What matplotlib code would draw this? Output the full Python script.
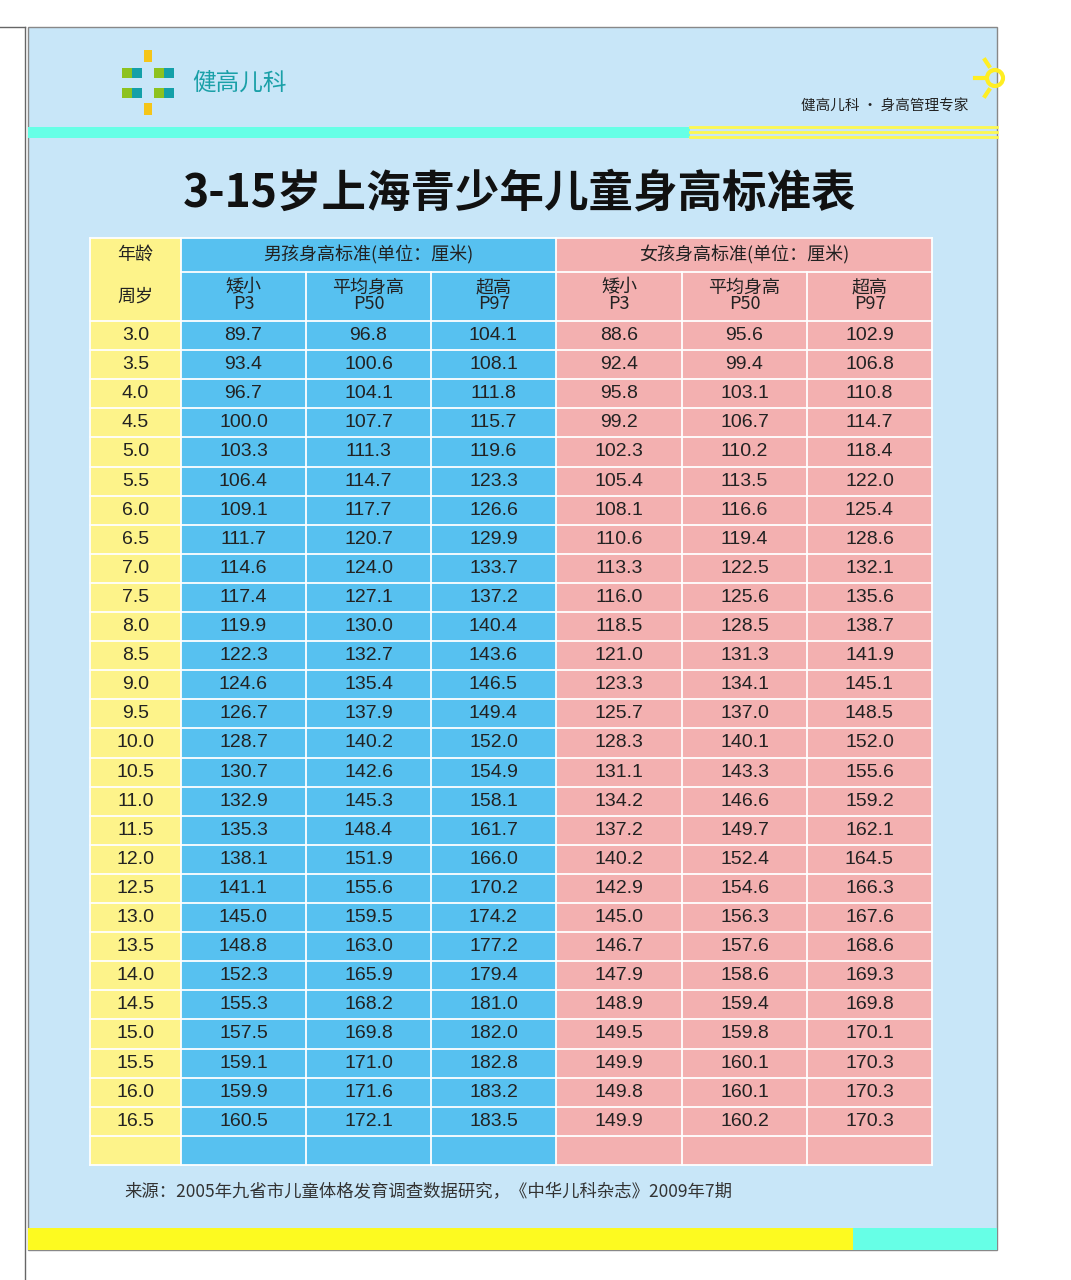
import matplotlib
matplotlib.use("Agg")
import matplotlib.pyplot as plt
from matplotlib.patches import Rectangle, Circle

plt.rcParams["font.family"] = ["Noto Sans CJK SC", "DejaVu Sans"]

AGES = ["3.0", "3.5", "4.0", "4.5", "5.0", "5.5", "6.0", "6.5", "7.0", "7.5", "8.0", "8.5",
        "9.0", "9.5", "10.0", "10.5", "11.0", "11.5", "12.0", "12.5", "13.0", "13.5", "14.0",
        "14.5", "15.0", "15.5", "16.0", "16.5"]
BOY_P3 = [89.7, 93.4, 96.7, 100.0, 103.3, 106.4, 109.1, 111.7, 114.6, 117.4, 119.9, 122.3, 124.6,
          126.7, 128.7, 130.7, 132.9, 135.3, 138.1, 141.1, 145.0, 148.8, 152.3, 155.3, 157.5,
          159.1, 159.9, 160.5]
BOY_P50 = [96.8, 100.6, 104.1, 107.7, 111.3, 114.7, 117.7, 120.7, 124.0, 127.1, 130.0, 132.7,
           135.4, 137.9, 140.2, 142.6, 145.3, 148.4, 151.9, 155.6, 159.5, 163.0, 165.9, 168.2,
           169.8, 171.0, 171.6, 172.1]
BOY_P97 = [104.1, 108.1, 111.8, 115.7, 119.6, 123.3, 126.6, 129.9, 133.7, 137.2, 140.4, 143.6,
           146.5, 149.4, 152.0, 154.9, 158.1, 161.7, 166.0, 170.2, 174.2, 177.2, 179.4, 181.0,
           182.0, 182.8, 183.2, 183.5]
GIRL_P3 = [88.6, 92.4, 95.8, 99.2, 102.3, 105.4, 108.1, 110.6, 113.3, 116.0, 118.5, 121.0, 123.3,
           125.7, 128.3, 131.1, 134.2, 137.2, 140.2, 142.9, 145.0, 146.7, 147.9, 148.9, 149.5,
           149.9, 149.8, 149.9]
GIRL_P50 = [95.6, 99.4, 103.1, 106.7, 110.2, 113.5, 116.6, 119.4, 122.5, 125.6, 128.5, 131.3,
            134.1, 137.0, 140.1, 143.3, 146.6, 149.7, 152.4, 154.6, 156.3, 157.6, 158.6, 159.4,
            159.8, 160.1, 160.1, 160.2]
GIRL_P97 = [102.9, 106.8, 110.8, 114.7, 118.4, 122.0, 125.4, 128.6, 132.1, 135.6, 138.7, 141.9,
            145.1, 148.5, 152.0, 155.6, 159.2, 162.1, 164.5, 166.3, 167.6, 168.6, 169.3, 169.8,
            170.1, 170.3, 170.3, 170.3]
SUB_HEADERS = ["矮小\nP3", "平均身高\nP50", "超高\nP97"]

PANEL, YEL, BLUE, PINK = "#c8e6f8", "#fdf38a", "#57c1f0", "#f3b0b0"
TXT = "#222222"

fig = plt.figure(figsize=(10.71, 12.8), dpi=100)
ax = fig.add_axes([0, 0, 1, 1])
ax.set_xlim(0, 1071); ax.set_ylim(1280, 0); ax.axis("off")

# frame and background panel
ax.plot([25, 25], [27, 1280], color="#666666", lw=1)
ax.plot([0, 25], [27, 27], color="#666666", lw=1)
ax.add_patch(Rectangle((28, 27), 969, 1223, fc=PANEL, ec="#888888", lw=1))

# logo
for (x, y, c) in [(144, 50, "#f5c518"), (144, 103, "#f5c518")]:
    ax.add_patch(Rectangle((x, y), 8, 12, fc=c, ec="none"))
for (x, y) in [(122, 68), (154, 68), (122, 88), (154, 88)]:
    ax.add_patch(Rectangle((x, y), 10, 10, fc="#8dc21f", ec="none"))
    ax.add_patch(Rectangle((x + 10, y), 10, 10, fc="#14a0a8", ec="none"))
ax.text(192, 83, "健高儿科", fontsize=17, color="#1aa0a8", va="center", ha="left")
ax.text(968, 107, "健高儿科 · 身高管理专家", fontsize=10.5, color=TXT, va="center", ha="right")
ax.add_patch(Circle((995, 78), 8, fc="none", ec="#ffee22", lw=3))
ax.plot([975, 983], [78, 78], color="#ffee22", lw=3)
ax.plot([985, 989], [60, 66], color="#ffee22", lw=3)
ax.plot([985, 989], [96, 90], color="#ffee22", lw=3)

# top stripes
ax.add_patch(Rectangle((28, 127), 662, 11, fc="#66ffe6", ec="none"))
for y in [127, 132, 137]:
    ax.plot([690, 997], [y, y], color="#fdf850", lw=2)

ax.text(520, 193, "3-15岁上海青少年儿童身高标准表", fontsize=32, color="#111111",
        ha="center", va="center", fontweight="bold")

# table
col_x = [90, 181, 306, 431, 556, 682, 807, 932]
col_fill = [YEL, BLUE, BLUE, BLUE, PINK, PINK, PINK]
h1, h2, top = 238, 272, 321
rh = 29.1
n = len(AGES)
bottom = top + rh * (n + 1)
for i in range(7):
    ax.add_patch(Rectangle((col_x[i], h1), col_x[i + 1] - col_x[i], bottom - h1,
                           fc=col_fill[i], ec="none"))
lw = 1.3
ax.plot([90, 932], [h1, h1], color="white", lw=lw)
ax.plot([181, 932], [h2, h2], color="white", lw=lw)
for k in range(n + 2):
    y = top + rh * k
    ax.plot([90, 932], [y, y], color="white", lw=lw)
for i, x in enumerate(col_x):
    y0 = h1 if i in (0, 1, 4, 7) else h2
    ax.plot([x, x], [y0, bottom], color="white", lw=lw)

ax.text(135, 255, "年龄", fontsize=13, ha="center", va="center", color=TXT)
ax.text(135, 297, "周岁", fontsize=13, ha="center", va="center", color=TXT)
ax.text(368, 255, "男孩身高标准(单位：厘米)", fontsize=13, ha="center", va="center", color=TXT)
ax.text(744, 255, "女孩身高标准(单位：厘米)", fontsize=13, ha="center", va="center", color=TXT)
for j, lab in enumerate(SUB_HEADERS * 2):
    cx = (col_x[j + 1] + col_x[j + 2]) / 2
    ax.text(cx, 296, lab, fontsize=13, ha="center", va="center", color=TXT, linespacing=0.9)

cols = [AGES, BOY_P3, BOY_P50, BOY_P97, GIRL_P3, GIRL_P50, GIRL_P97]
for i, vals in enumerate(cols):
    cx = (col_x[i] + col_x[i + 1]) / 2
    for k, v in enumerate(vals):
        s = v if isinstance(v, str) else f"{v:.1f}"
        ax.text(cx, top + rh * (k + 0.5), s, fontsize=14, ha="center", va="center",
                color=TXT, family="Liberation Sans")

ax.text(124, 1192, "来源：2005年九省市儿童体格发育调查数据研究，《中华儿科杂志》2009年7期",
        fontsize=12.5, color="#333333", ha="left", va="center")

# bottom stripe
ax.add_patch(Rectangle((28, 1228), 825, 22, fc="#fdfa20", ec="none"))
ax.add_patch(Rectangle((853, 1228), 144, 22, fc="#66ffe6", ec="none"))

fig.savefig("out.png", dpi=100)
